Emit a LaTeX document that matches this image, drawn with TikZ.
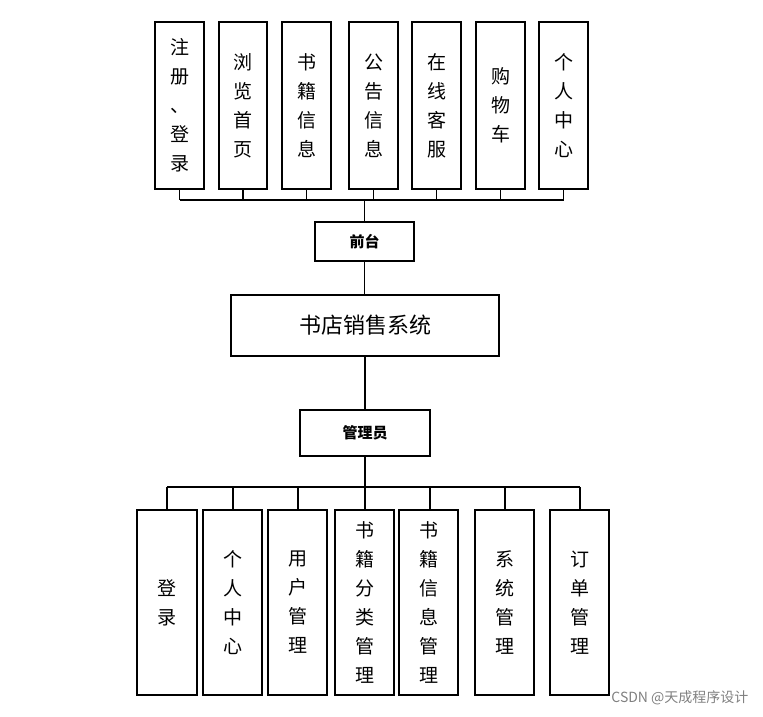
\documentclass[tikz,border=0pt]{standalone}
\usepackage{fontspec}
\newfontfamily\cjk{Noto Sans CJK SC}
\begin{document}
\begin{tikzpicture}[x=1pt,y=-1pt,
  box/.style={draw,line width=1.3pt,inner sep=0pt},
  vtext/.style={font=\cjk\fontsize{19}{29}\selectfont,align=center},
  ln/.style={line width=1.1pt}]
\useasboundingbox (0,0) rectangle (763,717);
% top boxes
\foreach \n/\a/\b/\t in {t1/155/204/{注\\册\\、\\登\\录},t2/219/267/{浏\\览\\首\\页},t3/282/331/{书\\籍\\信\\息},t4/349/398/{公\\告\\信\\息},t5/412/461/{在\\线\\客\\服},t6/476/525/{购\\物\\车},t7/539/588/{个\\人\\中\\心}}{
  \node[box,minimum width={\b-\a},minimum height=167] (\n) at ({(\a+\b)/2},105.5) {};
  \node[vtext] at (\n.center) {\t};
  \coordinate (\n b) at ({(\a+\b)/2},200);
}
\draw[ln] (t1b) -- (t7b);
\foreach \n in {t1,t2,t3,t4,t5,t6,t7} \draw[ln] (\n.south) -- (\n b);
\node[box,minimum width=99,minimum height=39,font=\cjk\bfseries\fontsize{15}{18}\selectfont] (qt) at (364.5,241.5) {前台};
\coordinate (qtb) at (364.5,200);
\draw[ln] (qtb) -- (qt.north);
\node[box,minimum width=268,minimum height=61,font=\cjk\fontsize{22}{26}\selectfont] (main) at (365,325.5) {书店销售系统};
\draw[ln] (qt.south) -- (qt.south|-main.north);
\node[box,minimum width=130,minimum height=46,font=\cjk\bfseries\fontsize{15}{18}\selectfont] (gl) at (365,433) {管理员};
\draw[ln] (main.south) -- (gl.north);
\coordinate (glb) at (365,487);
\draw[ln] (gl.south) -- (glb);
\foreach \n/\a/\b/\t in {b1/137/197/{登\\录},b2/203/262/{个\\人\\中\\心},b3/268/327/{用\\户\\管\\理},b4/335/394/{书\\籍\\分\\类\\管\\理},b5/399/458/{书\\籍\\信\\息\\管\\理},b6/475/534/{系\\统\\管\\理},b7/550/609/{订\\单\\管\\理}}{
  \node[box,minimum width={\b-\a},minimum height=185] (\n) at ({(\a+\b)/2},602.5) {};
  \node[vtext] at (\n.center) {\t};
  \coordinate (\n t) at ({(\a+\b)/2-30+(\b-\a)/2},487);
}
\coordinate (L) at (167,487); \coordinate (R) at (580,487);
\draw[ln] (L) -- (R);
\foreach \n/\x in {b1/167,b2/233,b3/298,b4/365,b5/430,b6/505,b7/580}{
  \coordinate (\n u) at (\x,487);
  \draw[ln] (\n u) -- (\n u|-\n.north);
}
\node[font=\cjk\fontsize{14}{16}\selectfont,text=gray,anchor=east] (wm) at (752,698) {CSDN @天成程序设计};
\end{tikzpicture}
\end{document}
